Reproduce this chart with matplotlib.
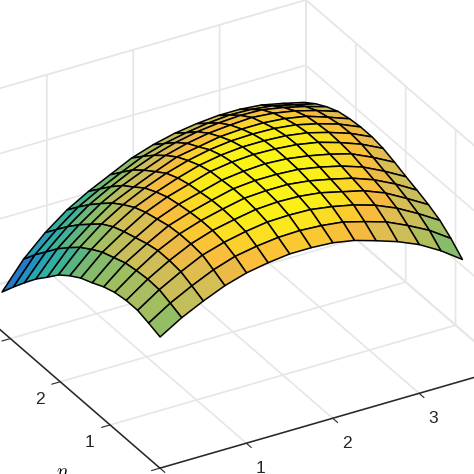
import numpy as np
import matplotlib
matplotlib.use('Agg')
import matplotlib.pyplot as plt
from matplotlib.colors import LinearSegmentedColormap

plt.rcParams['font.family'] = ['Liberation Sans', 'DejaVu Sans']
plt.rcParams['mathtext.fontset'] = 'cm'

# surface, rows go along eta
xs = [0.25,0.5,0.75,1.0,1.25,1.5,1.75,2.0,2.25,2.5,2.75,3.0,3.25,3.5,3.75]
etas = [0.43,0.66,0.88,1.11,1.34,1.56,1.79,2.02,2.24,2.47,2.69,2.92,3.15,3.37,3.6]
heights = [
    [1.63,1.83,1.99,2.13,2.23,2.29,2.33,2.33,2.31,2.25,2.15,2.04,1.90,1.71,1.48],
    [1.69,1.90,2.07,2.22,2.33,2.39,2.43,2.44,2.42,2.38,2.29,2.19,2.04,1.87,1.65],
    [1.74,1.96,2.14,2.30,2.40,2.47,2.52,2.53,2.52,2.47,2.40,2.30,2.16,1.98,1.78],
    [1.74,1.97,2.16,2.32,2.43,2.50,2.56,2.58,2.57,2.53,2.45,2.37,2.24,2.06,1.87],
    [1.71,1.95,2.16,2.32,2.43,2.51,2.58,2.60,2.60,2.56,2.49,2.41,2.29,2.13,1.94],
    [1.65,1.92,2.12,2.30,2.41,2.50,2.58,2.61,2.61,2.59,2.53,2.45,2.34,2.18,2.00],
    [1.56,1.85,2.06,2.25,2.38,2.47,2.56,2.60,2.62,2.60,2.55,2.48,2.39,2.24,2.07],
    [1.48,1.78,2.00,2.20,2.34,2.44,2.54,2.59,2.61,2.60,2.57,2.51,2.41,2.29,2.13],
    [1.37,1.68,1.93,2.13,2.27,2.39,2.49,2.55,2.58,2.58,2.56,2.51,2.42,2.31,2.16],
    [1.23,1.56,1.82,2.02,2.18,2.31,2.41,2.48,2.52,2.53,2.52,2.48,2.40,2.30,2.16],
    [1.05,1.41,1.67,1.90,2.05,2.19,2.32,2.38,2.44,2.46,2.46,2.43,2.37,2.26,2.14],
    [0.87,1.24,1.51,1.74,1.92,2.06,2.19,2.28,2.34,2.37,2.39,2.36,2.30,2.21,2.10],
    [0.66,1.04,1.33,1.57,1.75,1.91,2.04,2.14,2.21,2.25,2.27,2.26,2.20,2.12,2.02],
    [0.45,0.85,1.14,1.39,1.57,1.73,1.88,1.98,2.05,2.10,2.13,2.12,2.08,2.00,1.92],
    [0.22,0.63,0.94,1.19,1.38,1.54,1.70,1.81,1.89,1.94,1.97,1.97,1.94,1.87,1.79],
]
tick_values = [0,1,2,3,4]
tick_labels = ['','1','2','3','']
z_ticks = [0,1,2,3]

X,Y = np.meshgrid(xs,etas)
Z = np.array(heights)

# parula-like colours as they look in the picture
zmin,zmax = 0.2,2.62
stops = [(0.2,(40,80,200)),(0.6,(35,130,200)),(1.0,(40,170,175)),(1.39,(70,180,140)),(1.58,(120,185,115)),
         (1.78,(150,190,100)),(1.95,(195,190,90)),(2.14,(215,190,85)),(2.27,(245,185,65)),(2.36,(250,195,55)),
         (2.43,(250,215,40)),(2.50,(250,235,25)),(2.62,(250,245,20))]
cm = LinearSegmentedColormap.from_list('parula_like',[((s-zmin)/(zmax-zmin),tuple(c/255 for c in k)) for s,k in stops])

fig = plt.figure(figsize=(4.74,4.74),dpi=100)
ax = fig.add_axes([-70/474,-63/474,590/474,590/474],projection='3d')
ax.set_proj_type('ortho')
ax.view_init(elev=30,azim=-120)
ax.set_box_aspect((4,4,2.266))
ax.set_xlim(0,4,view_margin=0)
ax.set_ylim(0,4,view_margin=0)
ax.set_zlim(0,3,view_margin=0)
ax.plot_surface(X,Y,Z,rstride=1,cstride=1,cmap=cm,vmin=zmin,vmax=zmax,edgecolor='black',linewidth=1.1,shade=False)

ax.set_xticks(tick_values,tick_labels)
ax.set_yticks(tick_values,tick_labels)
ax.set_zticks(z_ticks,['']*len(z_ticks))
for a in (ax.xaxis,ax.yaxis,ax.zaxis):
    a.pane.set_facecolor('white')
    a.pane.set_edgecolor('#e6e6e6')
    a.pane.set_linewidth(1.2)
    a._axinfo['grid']['color'] = '#e6e6e6'
    a._axinfo['grid']['linewidth'] = 1.2
    a.line.set_color('#262626')
    a.line.set_linewidth(1.1)
    a._axinfo['tick']['color'] = '#262626'
    a._axinfo['tick']['inward_factor'] = 0
    a._axinfo['tick']['outward_factor'] = -0.3
ax.tick_params(labelsize=12.5,colors='#262626')
ax.tick_params(axis='x',pad=2.5)
ax.tick_params(axis='y',pad=5)
plt.setp(ax.get_xticklabels(),ha='left')
plt.setp(ax.get_yticklabels(),ha='center',va='center')
ax.text(-.92,.373,0,r'$\eta$',fontsize=14,ha='center',va='center')

fig.savefig('out.png',dpi=100)
